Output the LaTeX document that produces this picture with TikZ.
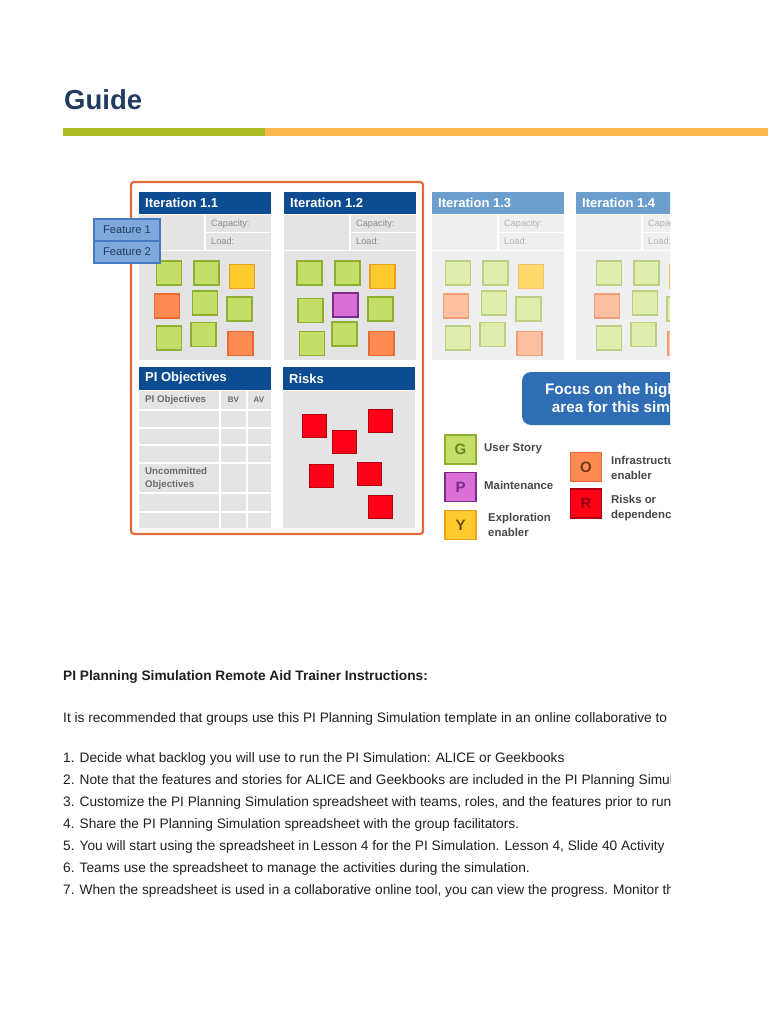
\documentclass[tikz,border=0pt]{standalone}
\usepackage{fontspec}
\setmainfont{Liberation Sans}
\usetikzlibrary{positioning}
\definecolor{PIblue}{RGB}{14,76,146}
\definecolor{PIblueL}{RGB}{108,159,205}
\definecolor{PIgray}{RGB}{228,228,228}
\definecolor{PIgrayL}{RGB}{239,239,239}
\definecolor{PIorange}{RGB}{229,104,58}
\definecolor{PInavy}{RGB}{34,58,96}
\definecolor{PIlime}{RGB}{171,190,36}
\definecolor{PIamber}{RGB}{249,185,78}
\definecolor{STgreen}{RGB}{197,222,106}
\definecolor{STgreenD}{RGB}{141,176,48}
\definecolor{STyellow}{RGB}{255,203,47}
\definecolor{STyellowD}{RGB}{240,160,32}
\definecolor{STorange}{RGB}{255,140,85}
\definecolor{STorangeD}{RGB}{232,106,48}
\definecolor{STpurple}{RGB}{218,111,214}
\definecolor{STpurpleD}{RGB}{123,45,140}
\definecolor{STred}{RGB}{255,0,22}
\definecolor{STredD}{RGB}{176,0,16}
\definecolor{FEfill}{RGB}{127,169,220}
\definecolor{FEdraw}{RGB}{70,120,190}
\definecolor{FOblue}{RGB}{47,109,181}
\tikzset{
  sticky/.style={rectangle, minimum width=25pt, minimum height=24pt, line width=1.8pt, inner sep=0pt},
  sg/.style={sticky, fill=STgreen, draw=STgreenD},
  sy/.style={sticky, fill=STyellow, draw=STyellowD},
  so/.style={sticky, fill=STorange, draw=STorangeD},
  sp/.style={sticky, fill=STpurple, draw=STpurpleD},
  fg/.style={sticky, fill=STgreen!55, draw=STgreenD!60},
  fy/.style={sticky, fill=STyellow!70, draw=STyellowD!65},
  fo/.style={sticky, fill=STorange!55, draw=STorangeD!65},
  risk/.style={sticky, minimum width=24pt, minimum height=23pt, line width=0.8pt, fill=STred, draw=STredD},
  hdr/.style={anchor=west, text=white, font=\bfseries\fontsize{13}{15}\selectfont, inner sep=0pt},
  capt/.style={anchor=west, font=\fontsize{9.2}{11}\selectfont, inner sep=0pt},
  feat/.style={rectangle, draw=FEdraw, fill=FEfill, line width=1.3pt, minimum width=66pt, minimum height=22pt,
    outer sep=0pt, inner sep=0pt, font=\fontsize{11.2}{13}\selectfont, text=PInavy},
  focusbox/.style={rectangle, rounded corners=9pt, fill=FOblue, text=white, align=center,
    minimum width=228pt, minimum height=53pt, font=\bfseries\fontsize{15.3}{18}\selectfont},
  key/.style={rectangle, minimum width=31pt, minimum height=29pt, line width=1.8pt, inner sep=0pt,
    font=\bfseries\fontsize{15}{17}\selectfont},
  keytxt/.style={anchor=west, align=left, text=black!72, font=\bfseries\fontsize{11.4}{15}\selectfont, inner sep=0pt},
  cell/.style={anchor=west, align=left, text=black!58, font=\bfseries\fontsize{9.7}{13}\selectfont, inner sep=0pt},
  body/.style={anchor=base west, inner sep=0pt, text=black!88, font=\fontsize{13.7}{16}\selectfont},
}
\begin{document}
\begin{tikzpicture}[x=1pt, y=-1pt]
  \useasboundingbox (0,0) rectangle (768,1024);
  \node[anchor=base west, inner sep=0pt, text=PInavy, font=\bfseries\fontsize{27.5}{30}\selectfont] (title) at (64,110) {Guide};
  \fill[PIlime] (63,128) rectangle (265,136);
  \fill[PIamber] (265,128) rectangle (768,136);
  \begin{scope}
    \clip (0,150) rectangle (670,1024);
    \foreach \x/\lbl/\hc/\gc/\tc [count=\i] in {139/1.1/PIblue/PIgray/black!45, 284/1.2/PIblue/PIgray/black!45,
        432/1.3/PIblueL/PIgrayL/black!30, 576/1.4/PIblueL/PIgrayL/black!30} {
      \fill[\hc] (\x,192) rectangle ++(132,22);
      \fill[\gc] (\x,215) rectangle ++(132,35);
      \fill[\gc] (\x,251) rectangle ++(132,109);
      \draw[white, line width=1.5pt] (\x+66,215) -- (\x+66,250) (\x+66,232.5) -- (\x+132,232.5);
      \node[hdr] (it\i) at (\x+6,203) {Iteration \lbl};
      \node[capt, text=\tc] (cap\i) at (\x+72,224) {Capacity:};
      \node[capt, text=\tc] (load\i) at (\x+72,241.5) {Load:};
    }
    \foreach \x/\y/\s [count=\i] in {169/273/sg, 206.5/273/sg, 242/276.5/sy, 167/306/so, 205/303/sg,
        239.5/309/sg, 169/338/sg, 203.5/334.5/sg, 240.5/343.5/so}
      \node[\s] (a\i) at (\x,\y) {};
    \foreach \x/\y/\s [count=\i] in {309.5/273/sg, 347.5/273/sg, 382.5/276.5/sy, 310.5/310.5/sg, 345.5/305/sp,
        380.5/309/sg, 312/343.5/sg, 344.5/334/sg, 381.5/343.5/so}
      \node[\s] (b\i) at (\x,\y) {};
    \foreach \dx/\k in {289/c, 440/d}
      \foreach \x/\y/\s [count=\i] in {169/273/fg, 206.5/273/fg, 242/276.5/fy, 167/306/fo, 205/303/fg,
          239.5/309/fg, 169/338/fg, 203.5/334.5/fg, 240.5/343.5/fo}
        \node[\s] (\k\i) at (\x+\dx,\y) {};
    \fill[PIblue] (139,367) rectangle ++(132,23);
    \node[hdr] (obj) at (145,378.5) {PI Objectives};
    \fill[PIgray] (139,391) rectangle (271,528);
    \draw[white, line width=1.5pt] (220,391) -- (220,528) (247,391) -- (247,528);
    \foreach \y in {410,428,445,463,493,512}
      \draw[white, line width=1.5pt] (139,\y) -- (271,\y);
    \node[cell] (objcol) at (145,400) {PI Objectives};
    \node[cell, font=\bfseries\fontsize{8}{10}\selectfont, anchor=center] (bv) at (233.5,400) {BV};
    \node[cell, font=\bfseries\fontsize{8}{10}\selectfont, anchor=center] (av) at (259,400) {AV};
    \node[cell] (unc) at (145,478) {Uncommitted\\Objectives};
    \fill[PIblue] (283,367) rectangle ++(132,23);
    \node[hdr] (risks) at (289,378.5) {Risks};
    \fill[PIgray] (283,391) rectangle (415,528);
    \foreach \x/\y [count=\i] in {314/425.5, 380.5/421, 344.5/442, 321/476, 369.5/474, 380.5/507}
      \node[risk] (r\i) at (\x,\y) {};
    \draw[PIorange, line width=2.2pt, rounded corners=3pt] (131,182) rectangle (423,534);
    \node[feat] (f1) at (127,230) {Feature 1};
    \node[feat, below=0pt of f1] (f2) {Feature 2};
    \node[focusbox] (focus) at (636,398.5) {Focus on the highlighted\\area for this simulation};
    \node[key, fill=STgreen, draw=STgreenD, text=STgreenD!75!black] (kg) at (460.5,449.5) {G};
    \node[key, fill=STpurple, draw=STpurpleD, text=STpurpleD] (kp) at (460.5,487) {P};
    \node[key, fill=STyellow, draw=STyellowD, text=STyellowD!45!black] (ky) at (460.5,525) {Y};
    \node[key, fill=STorange, draw=STorangeD, text=STorangeD!50!black] (ko) at (586,467) {O};
    \node[key, fill=STred, draw=STredD, text=STredD!85!black] (kr) at (586,503.5) {R};
    \node[keytxt] (kgt) at (484,449) {User Story};
    \node[keytxt] (kpt) at (484,485) {Maintenance};
    \node[keytxt] (kyt) at (488,524.5) {Exploration\\enabler};
    \node[keytxt] (kot) at (611,467.5) {Infrastructure\\enabler};
    \node[keytxt] (krt) at (611,508.5) {Risks or\\dependencies};
    \node[body, font=\bfseries\fontsize{13.7}{16}\selectfont] (head) at (63,680) {PI Planning Simulation Remote Aid Trainer Instructions:};
    \node[body] (intro) at (63,722) {It is recommended that groups use this PI Planning Simulation template in an online collaborative to};
    \node[body] (s1) at (63,762) {1. Decide what backlog you will use to run the PI Simulation: ALICE or Geekbooks};
    \node[body] (s2) at (63,784) {2. Note that the features and stories for ALICE and Geekbooks are included in the PI Planning Simulation};
    \node[body] (s3) at (63,806) {3. Customize the PI Planning Simulation spreadsheet with teams, roles, and the features prior to running};
    \node[body] (s4) at (63,828) {4. Share the PI Planning Simulation spreadsheet with the group facilitators.};
    \node[body] (s5) at (63,850) {5. You will start using the spreadsheet in Lesson 4 for the PI Simulation. Lesson 4, Slide 40 Activity};
    \node[body] (s6) at (63,872) {6. Teams use the spreadsheet to manage the activities during the simulation.};
    \node[body] (s7) at (63,894) {7. When the spreadsheet is used in a collaborative online tool, you can view the progress. Monitor the};
  \end{scope}
\end{tikzpicture}
\end{document}
